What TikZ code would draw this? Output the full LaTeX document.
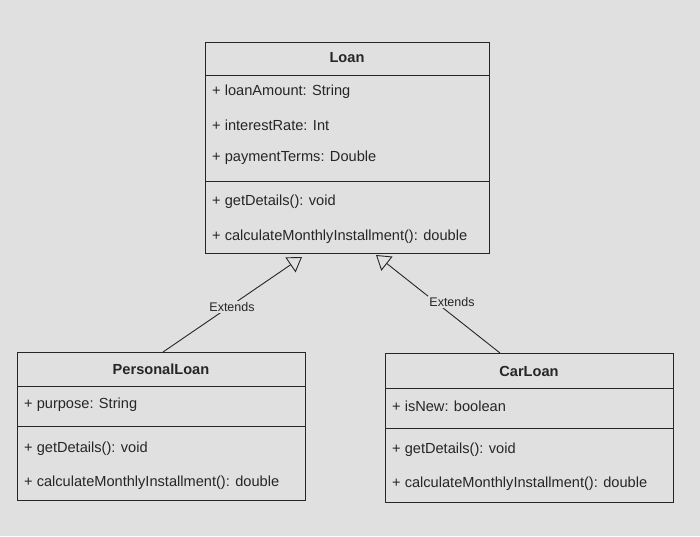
\documentclass[tikz,border=0pt]{standalone}
\usepackage{fontspec}
\setmainfont{Liberation Sans}
\usetikzlibrary{arrows.meta}
\begin{document}
\begin{tikzpicture}[x=1pt,y=-1pt,
  box/.style={draw=black!85,line width=0.9pt},
  txt/.style={anchor=west,font=\fontsize{14.6}{16}\selectfont,text=black!85,inner sep=0},
  ttl/.style={font=\fontsize{14.6}{16}\selectfont\bfseries,text=black!85,inner sep=0},
  lbl/.style={font=\fontsize{12.5}{14}\selectfont,text=black!85,inner sep=1pt},
  ext/.style={draw=black!85,line width=0.9pt,-{Triangle[open,length=14pt,width=18pt]}}]
\fill[black!12] (0,0) rectangle (700,536);
\useasboundingbox (0,0) rectangle (700,536);
% Loan
\draw[box] (205,42) rectangle (489,253);
\draw[box] (205,75) -- (489,75);
\draw[box] (205,181) -- (489,181);
\node[ttl] (lt) at (347,58) {Loan};
\node[txt] (l1) at (212,92) {+ loanAmount: String};
\node[txt] (l2) at (212,125) {+ interestRate: Int};
\node[txt] (l3) at (212,158) {+ paymentTerms: Double};
\node[txt] (l4) at (212,202) {+ getDetails(): void};
\node[txt] (l5) at (212,237) {+ calculateMonthlyInstallment(): double};
% PersonalLoan
\draw[box] (17,352) rectangle (305,500);
\draw[box] (17,386) -- (305,386);
\draw[box] (17,426) -- (305,426);
\node[ttl] (pt) at (161,369) {PersonalLoan};
\node[txt] (p1) at (24,405) {+ purpose: String};
\node[txt] (p2) at (24,449) {+ getDetails(): void};
\node[txt] (p3) at (24,483) {+ calculateMonthlyInstallment(): double};
% CarLoan
\draw[box] (385,353) rectangle (673,502);
\draw[box] (385,388) -- (673,388);
\draw[box] (385,428) -- (673,428);
\node[ttl] (ct) at (529,371) {CarLoan};
\node[txt] (c1) at (392,406) {+ isNew: boolean};
\node[txt] (c2) at (392,450) {+ getDetails(): void};
\node[txt] (c3) at (392,484) {+ calculateMonthlyInstallment(): double};
% connectors
\coordinate (pa) at (163,352);
\coordinate (pb) at (302,257);
\coordinate (ca) at (500,353);
\coordinate (cb) at (376,255);
\draw[ext] (pa) -- (pb);
\draw[ext] (ca) -- (cb);
\node[lbl,fill=black!12] (e1) at (232,307) {Extends};
\node[lbl,fill=black!12] (e2) at (452,302) {Extends};
\end{tikzpicture}
\end{document}
